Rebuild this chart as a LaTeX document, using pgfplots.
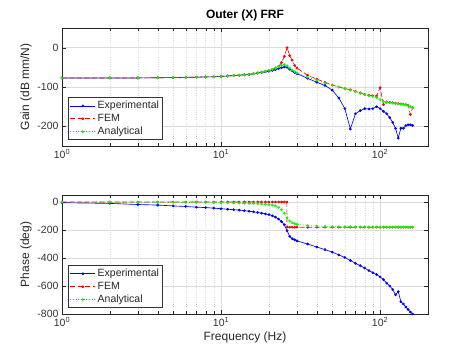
\documentclass[border=0pt]{standalone}
\usepackage{pgfplots}
\pgfplotsset{compat=1.18}
\usepackage{fontspec}
\setmainfont{Liberation Sans}
\definecolor{gridc}{gray}{0.86}
\definecolor{axc}{gray}{0.15}
\pgfplotsset{
  every axis/.append style={
    xmode=log, xmin=1, xmax=200,
    scale only axis, width=366pt,
    axis line style={axc},
    tick style={axc},
    xtick={1,10,100},
    xticklabels={10\textsuperscript{0},10\textsuperscript{1},10\textsuperscript{2}},
    xmajorgrids, xminorgrids, ymajorgrids,
    major grid style={gridc, line width=0.4pt},
    minor grid style={gridc, dotted, line width=0.4pt},
    tick label style={font=\fontsize{10.5}{12}\selectfont, text=black!80},
    label style={font=\fontsize{12}{14}\selectfont, text=black!85},
    /pgf/number format/assume math mode=true,
    legend style={font=\fontsize{10.5}{12}\selectfont, draw=black!80, line width=0.7pt,
      at={(rel axis cs:0.017,0.05)}, anchor=south west, row sep=0pt,
      inner sep=1.5pt, text=black!85},
    legend cell align=left,
    legend image code/.code={\draw[mark repeat=2, mark phase=2, #1] plot coordinates {(0pt,0pt) (12.5pt,0pt) (25pt,0pt)};},
  },
  every axis plot/.append style={line width=0.65pt, mark size=1pt},
  femline/.style={red, dash pattern=on 5pt off 2.5pt, mark=*, mark options={solid}},
  analine/.style={green!85!black, dotted, mark=*, mark options={solid, fill=green, draw=green}},
}
\pgfplotstableread{
f g
1 -77
2 -77
3 -77
4 -76.5
5 -76
6 -75.5
7 -75
8 -74.5
9 -74
10 -73
11 -72
12 -71
13 -70
14 -69
15 -68
16 -66
17 -64.5
18 -63
19 -61.5
20 -60
21 -58
22 -56
23 -53
24 -51
25 -49
26 -50
27 -55
28 -59
29 -63
30 -66
35 -78
40 -88
45 -96
50 -108
55 -128
60 -155
65 -207
70 -168
75 -160
80 -155
85 -156
90 -155
95 -150
100 -155
105 -162
110 -168
115 -178
120 -190
125 -205
130 -230
135 -205
140 -205
145 -198
150 -196
155 -196
160 -198
}\expgain
\pgfplotstableread{
f g
1 -77
2 -77
3 -77
4 -76.5
5 -76
6 -75.5
7 -75
8 -74.5
9 -74
10 -73
11 -72
12 -71
13 -70
14 -69
15 -68
16 -66
17 -64
18 -62
19 -60
20 -58
21 -55
22 -52
23 -48
24 -38
25 -22
26 0
27 -20
28 -32
29 -45
30 -52
35 -70
40 -80
45 -88
50 -95
55 -100
60 -104
65 -107
70 -111
75 -115
80 -119
85 -121
90 -122
95 -123
100 -102
105 -145
110 -138
115 -139
120 -140
125 -141
130 -142
135 -143
140 -144
145 -145
150 -146
155 -170
160 -153
}\femgain
\pgfplotstableread{
f g
1 -77
2 -77
3 -77
4 -76.5
5 -76
6 -75.5
7 -75
8 -74.5
9 -74
10 -73
11 -72
12 -71
13 -70
14 -69
15 -68
16 -66
17 -64
18 -62
19 -60
20 -58
21 -55
22 -52
23 -48
24 -45
25 -43
26 -46
27 -52
28 -57
29 -61
30 -64
35 -75
40 -83
45 -90
50 -95
55 -100
60 -104
65 -108
70 -112
75 -116
80 -120
85 -122
90 -124
95 -127
100 -132
105 -137
110 -139
115 -140
120 -141
125 -142
130 -143
135 -144
140 -145
145 -146
150 -147
155 -150
160 -152
}\anagain
\pgfplotstableread{
f p
1 -5
2 -10
3 -18
4 -22
5 -28
6 -32
7 -37
8 -40
9 -44
10 -48
11 -52
12 -55
13 -58
14 -62
15 -66
16 -70
17 -75
18 -80
19 -85
20 -90
21 -98
22 -108
23 -122
24 -140
25 -163
26 -205
27 -245
28 -262
29 -270
30 -278
35 -300
40 -322
45 -340
50 -358
55 -378
60 -396
65 -418
70 -438
75 -455
80 -472
85 -490
90 -505
95 -518
100 -535
105 -555
110 -580
115 -600
120 -625
125 -663
130 -640
135 -712
140 -728
145 -750
150 -768
155 -786
160 -800
}\expphase
\pgfplotstableread{
f p
1 0
2 0
3 0
4 0
5 0
6 0
7 0
8 0
9 0
10 0
11 0
12 0
13 0
14 0
15 0
16 0
17 0
18 0
19 0
20 0
21 0
22 0
23 0
24 0
25 0
25.9 0
26 -180
27 -180
28 -180
29 -180
30 -180
35 -180
40 -180
45 -180
50 -180
55 -180
60 -180
65 -180
70 -180
75 -180
80 -180
85 -180
90 -180
95 -180
100 -180
105 -180
110 -180
115 -180
120 -180
125 -180
130 -180
135 -180
140 -180
145 -180
150 -180
155 -180
160 -180
}\femphase
\pgfplotstableread{
f p
1 -1
2 -1.5
3 -2
4 -2.5
5 -3
6 -3.5
7 -4
8 -4.5
9 -5
10 -5.5
11 -6
12 -7
13 -8
14 -9
15 -10
16 -11
17 -12
18 -14
19 -16
20 -18
21 -22
22 -28
23 -38
24 -55
25 -80
26 -112
27 -135
28 -148
29 -155
30 -160
35 -168
40 -172
45 -174
50 -175
55 -176
60 -177
65 -177
70 -178
75 -178
80 -178
85 -178
90 -179
95 -179
100 -179
105 -179
110 -179
115 -179
120 -179
125 -179
130 -179
135 -179
140 -179
145 -180
150 -180
155 -180
160 -180
}\anaphase
\begin{document}
\begin{tikzpicture}
\path[use as bounding box] (0pt,0pt) rectangle (474pt,355pt);
\begin{axis}[at={(62pt,209pt)}, anchor=south west, height=118pt,
  ymin=-250, ymax=50, ytick={-200,-100,0},
  ylabel={Gain (dB mm/N)},
  title={Outer (X) FRF}, title style={font=\fontsize{12}{14}\selectfont\bfseries, text=black, yshift=-3pt},
  ylabel style={yshift=-1pt}]
\addplot[blue, mark=*] table[x=f,y=g] {\expgain};
\addlegendentry{Experimental}
\addplot[femline] table[x=f,y=g] {\femgain};
\addlegendentry{FEM}
\addplot[analine] table[x=f,y=g] {\anagain};
\addlegendentry{Analytical}
\end{axis}
\begin{axis}[at={(62pt,41pt)}, anchor=south west, height=119pt,
  ymin=-800, ymax=50, ytick={-800,-600,-400,-200,0},
  ylabel={Phase (deg)}, xlabel={Frequency (Hz)},
  xlabel style={yshift=2pt}, ylabel style={yshift=-1pt}]
\addplot[blue, mark=*] table[x=f,y=p] {\expphase};
\addlegendentry{Experimental}
\addplot[femline] table[x=f,y=p] {\femphase};
\addlegendentry{FEM}
\addplot[analine] table[x=f,y=p] {\anaphase};
\addlegendentry{Analytical}
\end{axis}
\end{tikzpicture}
\end{document}
